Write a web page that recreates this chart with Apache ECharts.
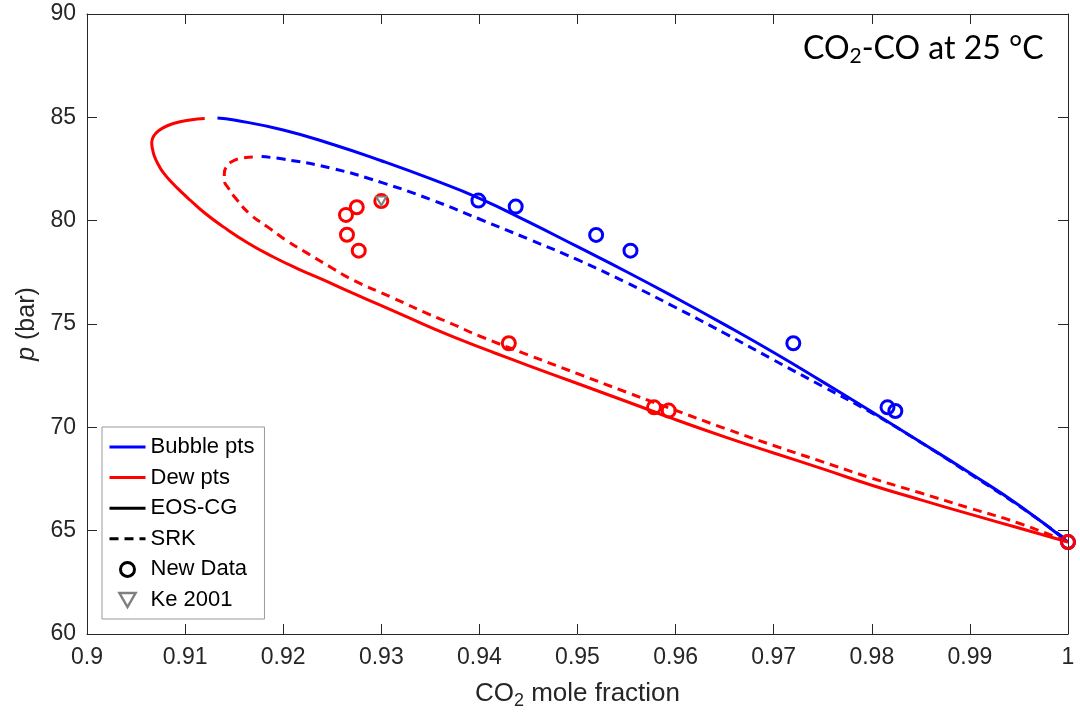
<!DOCTYPE html>
<html>
<head>
<meta charset="utf-8">
<script src="https://cdn.jsdelivr.net/npm/echarts@6/dist/echarts.min.js"></script>
<style>html,body{margin:0;padding:0;background:#fff}#c{width:1080px;height:720px}</style>
</head>
<body>
<div id="c"></div>
<script>
// ---- data ----
const xTicks = [0.9,0.91,0.92,0.93,0.94,0.95,0.96,0.97,0.98,0.99,1];
const yTicks = [60,65,70,75,80,85,90];

// EOS-CG bubble curve
const bubbleEosX = [0.9133,0.915,0.92,0.925,0.93,0.935,0.94,0.945,0.95,0.955,0.96,0.965,0.97,0.975,0.98,0.985,0.99,0.995,1.0];
const bubbleEosP = [84.97,84.87,84.39,83.7,82.9,82.03,81.08,79.94,78.74,77.53,76.27,74.97,73.62,72.2,70.75,69.28,67.79,66.23,64.45];
// SRK bubble curve
const bubbleSrkX = [0.9178,0.92,0.925,0.93,0.935,0.94,0.945,0.95,0.955,0.96,0.965,0.97,0.975,0.98,0.985,0.99,0.995,1.0];
const bubbleSrkP = [83.10,82.98,82.53,81.85,81.03,80.08,79.11,78.11,77.0,75.8,74.55,73.26,71.98,70.70,69.27,67.75,66.2,64.5];
// EOS-CG dew curve
const dewEosX = [0.9120,0.9105,0.9088,0.9077,0.9070,0.9067,0.9066,0.9067,0.9069,0.9073,0.9078,0.9087,0.9095,0.9105,0.9120,0.9139,0.9164,0.9190,0.9215,0.9241,0.9268,0.9296,0.9325,0.9355,0.9385,0.9415,0.945,0.95,0.955,0.96,0.965,0.97,0.975,0.98,0.985,0.99,0.995,1.0];
const dewEosP = [84.94,84.87,84.70,84.48,84.22,84.0,83.76,83.42,83.08,82.69,82.31,81.82,81.44,81.0,80.37,79.70,78.92,78.24,77.67,77.13,76.55,75.97,75.37,74.74,74.16,73.61,72.99,72.12,71.25,70.37,69.54,68.76,67.99,67.2,66.49,65.8,65.13,64.45];
// SRK dew curve
const dewSrkX = [0.9169,0.9156,0.9147,0.9142,0.9140,0.9140,0.9144,0.9153,0.9166,0.9184,0.9204,0.9224,0.9248,0.9271,0.9312,0.935,0.937,0.94,0.945,0.95,0.955,0.96,0.965,0.97,0.975,0.98,0.985,0.99,0.995,1.0];
const dewSrkP = [83.08,83.01,82.84,82.6,82.31,81.97,81.58,81.0,80.32,79.70,79.02,78.44,77.76,77.13,76.26,75.44,75.05,74.42,73.5,72.6,71.7,70.82,69.95,69.12,68.33,67.54,66.82,66.09,65.36,64.45];

// New data: bubble points and dew points
const bubbleDataX = [0.9399,0.9437,0.9519,0.9554,0.9720,0.9816,0.9824,1.0];
const bubbleDataP = [80.97,80.68,79.31,78.55,74.07,70.97,70.79,64.45];
const dewDataX = [0.9300,0.9275,0.9264,0.9265,0.9277,0.9430,0.9578,0.9593,1.0];
const dewDataP = [80.95,80.65,80.28,79.32,78.55,74.07,70.97,70.81,64.45];
// Ke 2001
const keX = [0.9300];
const keP = [80.95];

const zip = (a, b) => a.map((v, i) => [v, b[i]]);

const BLUE = '#0000ff', RED = '#ff0000', AX = '#262626';
const FONT = 'Liberation Sans, Arial, sans-serif';
const DASH = [9, 6];

const axisCommon = {
  axisLine: {show: true, onZero: false, lineStyle: {color: AX, width: 1}},
  axisTick: {show: true, inside: true, length: 10, lineStyle: {color: AX, width: 1}},
  splitLine: {show: false}
};

const noDot = {color: 'rgba(0,0,0,0)', borderWidth: 0, borderColor: 'rgba(0,0,0,0)'};

const chart = echarts.init(document.getElementById('c'), null, {renderer: 'canvas'});
chart.setOption({
  backgroundColor: '#fff',
  animation: false,
  title: {
    text: '{n|CO}{s|2}{n|-CO at 25 °C}',
    left: 798, top: 25,
    textStyle: {
      fontWeight: 'normal',
      rich: {
        n: {fontFamily: 'Lato', fontSize: 32, fontWeight: 'normal', color: '#000'},
        s: {fontFamily: 'Lato', fontSize: 21, fontWeight: 'normal', color: '#000', padding: [16, 0, 0, 0]}
      }
    }
  },
  grid: {left: 87, top: 14, right: 12, bottom: 86, containLabel: false},
  legend: {
    left: 102, top: 427,
    orient: 'vertical',
    backgroundColor: '#fff',
    borderColor: '#999',
    borderWidth: 1,
    padding: [9, 10, 8, 6],
    itemWidth: 36, itemHeight: 14, itemGap: 8.6,
    itemTextGap: 2,
    symbolKeepAspect: true,
    selectedMode: false,
    textStyle: {fontFamily: FONT, fontSize: 22, color: '#000', lineHeight: 22},
    lineStyle: {width: 3},
    data: [
      {name: 'Bubble pts', itemStyle: noDot},
      {name: 'Dew pts', itemStyle: noDot},
      {name: 'EOS-CG', itemStyle: noDot},
      {name: 'SRK', itemStyle: noDot},
      {name: 'New Data', icon: 'circle', itemStyle: {color: 'rgba(0,0,0,0)', borderColor: '#000', borderWidth: 3}},
      {name: 'Ke 2001', icon: 'path://M0,0 L10,0 L5,8.66 Z', itemStyle: {color: '#fff', borderColor: '#808080', borderWidth: 2.5}}
    ]
  },
  xAxis: [
    Object.assign({
      type: 'value', position: 'bottom', min: xTicks[0], max: xTicks[xTicks.length - 1], interval: 0.01,
      name: '{a|CO}{s|2}{a| mole fraction}', nameLocation: 'middle', nameGap: 44,
      nameTextStyle: {rich: {
        a: {fontFamily: FONT, fontSize: 26, color: AX},
        s: {fontFamily: FONT, fontSize: 18, color: AX, padding: [14, 0, 0, 0]}
      }},
      axisLabel: {margin: 12, fontFamily: FONT, fontSize: 23, color: AX,
        formatter: v => String(Math.round(v * 100) / 100)}
    }, axisCommon),
    Object.assign({
      type: 'value', position: 'top', min: xTicks[0], max: xTicks[xTicks.length - 1], interval: 0.01,
      axisLabel: {show: false}
    }, axisCommon)
  ],
  yAxis: [
    Object.assign({
      type: 'value', position: 'left', min: yTicks[0], max: yTicks[yTicks.length - 1], interval: 5,
      name: '{i|p}{a| (bar)}', nameLocation: 'middle', nameGap: 42, nameRotate: 90,
      nameTextStyle: {rich: {
        i: {fontFamily: FONT, fontSize: 25, fontStyle: 'italic', color: AX},
        a: {fontFamily: FONT, fontSize: 25, color: AX}
      }},
      axisLabel: {margin: 11, fontFamily: FONT, fontSize: 23, color: AX}
    }, axisCommon),
    Object.assign({
      type: 'value', position: 'right', min: yTicks[0], max: yTicks[yTicks.length - 1], interval: 5,
      axisLabel: {show: false}
    }, axisCommon)
  ],
  series: [
    {name: 'Bubble pts', type: 'line', data: zip(bubbleEosX, bubbleEosP), symbol: 'none', smooth: 0.5,
      color: BLUE, lineStyle: {color: BLUE, width: 3}, z: 2},
    {name: 'Dew pts', type: 'line', data: zip(dewEosX, dewEosP), symbol: 'none', smooth: 0.5,
      color: RED, lineStyle: {color: RED, width: 3}, z: 2},
    {name: 'Bubble SRK', type: 'line', data: zip(bubbleSrkX, bubbleSrkP), symbol: 'none', smooth: 0.5,
      color: BLUE, lineStyle: {color: BLUE, width: 3, type: DASH}, z: 2},
    {name: 'Dew SRK', type: 'line', data: zip(dewSrkX, dewSrkP), symbol: 'none', smooth: 0.5,
      color: RED, lineStyle: {color: RED, width: 3, type: DASH}, z: 2},
    {name: 'EOS-CG', type: 'line', data: [], symbol: 'none', color: '#000', lineStyle: {color: '#000', width: 3}},
    {name: 'SRK', type: 'line', data: [], symbol: 'none', color: '#000', lineStyle: {color: '#000', width: 3, type: DASH}},
    {name: 'New Data', type: 'scatter', data: [], symbol: 'circle',
      itemStyle: {color: 'rgba(0,0,0,0)', borderColor: '#000', borderWidth: 3, opacity: 1}},
    {name: 'Bubble data', type: 'scatter', data: zip(bubbleDataX, bubbleDataP), symbol: 'circle', symbolSize: 13,
      itemStyle: {color: 'rgba(0,0,0,0)', borderColor: BLUE, borderWidth: 3, opacity: 1}, z: 3},
    {name: 'Dew data', type: 'scatter', data: zip(dewDataX, dewDataP), symbol: 'circle', symbolSize: 13,
      itemStyle: {color: 'rgba(0,0,0,0)', borderColor: RED, borderWidth: 3, opacity: 1}, z: 4},
    {name: 'Ke 2001', type: 'scatter', data: zip(keX, keP), symbol: 'path://M0,0 L10,0 L5,8.66 Z', symbolSize: [10, 8.7],
      itemStyle: {color: '#fff', borderColor: '#808080', borderWidth: 2, opacity: 1}, z: 5}
  ]
});
</script>
</body>
</html>
